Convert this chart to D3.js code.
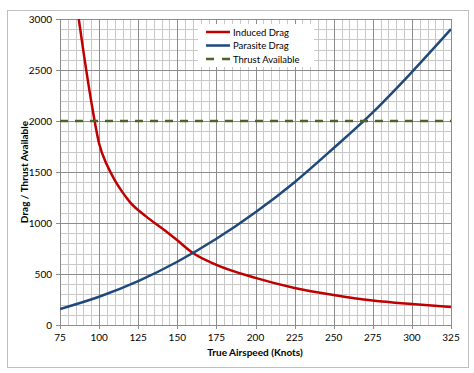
<!DOCTYPE html>
<html>
<head>
<meta charset="utf-8">
<script src="https://cdn.jsdelivr.net/npm/d3@7"></script>
<style>
  body { margin: 0; background: #fff; }
  svg { display: block; font-family: Lato, "Open Sans", sans-serif; }
</style>
</head>
<body>
<svg id="chart" width="474" height="373"></svg>
<script>
// values
const xTicks = [75, 100, 125, 150, 175, 200, 225, 250, 275, 300, 325];
const yTicks = [0, 500, 1000, 1500, 2000, 2500, 3000];

const inducedSpeed = [87, 90, 95, 100, 105, 110, 115, 120, 130, 140, 150, 160, 175, 200, 225, 250, 275, 300, 325];
const inducedDrag  = [3000, 2680, 2190, 1780, 1570, 1420, 1300, 1200, 1065, 950, 830, 705, 590, 462, 363, 294, 240, 205, 176];

const parasiteSpeed = [75, 100, 125, 150, 175, 200, 225, 250, 275, 300, 325];
const parasiteDrag  = [157, 277, 430, 620, 845, 1105, 1400, 1735, 2085, 2480, 2900];

const thrustSpeed = [75, 325];
const thrustAvail = [2000, 2000];

const seriesNames = ['Induced Drag', 'Parasite Drag', 'Thrust Available'];
const seriesColors = ['#C00000', '#1F497D', '#4F6228'];

const svg = d3.select('#chart');

// outer chart frame
svg.append('rect')
  .attr('x', 7.5).attr('y', 10.5)
  .attr('width', 461).attr('height', 357)
  .attr('fill', '#fff')
  .attr('stroke', '#BFBFBF');

const x = d3.scaleLinear().domain([75, 325]).range([60, 451]);
const y = d3.scaleLinear().domain([0, 3000]).range([325, 19]);

// gridlines, minor then major
const grid = svg.append('g');
grid.selectAll('.vminor')
  .data(d3.range(75, 326, 5).filter(v => (v - 75) % 25 !== 0))
  .enter().append('line')
  .attr('x1', d => Math.round(x(d)) + 0.5).attr('x2', d => Math.round(x(d)) + 0.5)
  .attr('y1', y(0)).attr('y2', y(3000))
  .attr('stroke', '#C8C8C8');
grid.selectAll('.hminor')
  .data(d3.range(0, 3001, 100).filter(v => v % 500 !== 0))
  .enter().append('line')
  .attr('y1', d => Math.round(y(d)) + 0.5).attr('y2', d => Math.round(y(d)) + 0.5)
  .attr('x1', x(75)).attr('x2', x(325))
  .attr('stroke', '#C8C8C8');
grid.selectAll('.vmajor')
  .data(xTicks)
  .enter().append('line')
  .attr('x1', d => Math.round(x(d)) + 0.5).attr('x2', d => Math.round(x(d)) + 0.5)
  .attr('y1', y(0) + 4).attr('y2', y(3000))
  .attr('stroke', '#8C8C8C');
grid.selectAll('.hmajor')
  .data(yTicks)
  .enter().append('line')
  .attr('y1', d => Math.round(y(d)) + 0.5).attr('y2', d => Math.round(y(d)) + 0.5)
  .attr('x1', x(75) - 4).attr('x2', x(325))
  .attr('stroke', '#8C8C8C');

// tick labels
svg.append('g').selectAll('text')
  .data(xTicks)
  .enter().append('text')
  .attr('x', d => x(d))
  .attr('y', 341)
  .attr('text-anchor', 'middle')
  .attr('font-size', 10)
  .attr('fill', '#000')
  .text(d => d);

svg.append('g').selectAll('text')
  .data(yTicks)
  .enter().append('text')
  .attr('x', 52)
  .attr('y', d => y(d) + 3.5)
  .attr('text-anchor', 'end')
  .attr('font-size', 10)
  .attr('fill', '#000')
  .text(d => d);

// axis titles
svg.append('text')
  .attr('x', 255).attr('y', 356)
  .attr('text-anchor', 'middle')
  .attr('font-size', 10).attr('font-weight', 'bold')
  .text('True Airspeed (Knots)');

svg.append('text')
  .attr('transform', 'translate(28,172) rotate(-90)')
  .attr('text-anchor', 'middle')
  .attr('font-size', 10).attr('font-weight', 'bold')
  .text('Drag / Thrust Available');

// legend box covers the grid
svg.append('rect')
  .attr('x', 198).attr('y', 24)
  .attr('width', 116).attr('height', 43)
  .attr('fill', '#fff');

// lines
svg.append('clipPath').attr('id', 'plotclip')
  .append('rect').attr('x', 60).attr('y', 19).attr('width', 391).attr('height', 306);

const line = d3.line()
  .x(d => x(d[0]))
  .y(d => y(d[1]))
  .curve(d3.curveMonotoneX);

const plot = svg.append('g').attr('clip-path', 'url(#plotclip)');

plot.append('path')
  .datum(inducedSpeed.map((s, i) => [s, inducedDrag[i]]))
  .attr('d', line)
  .attr('fill', 'none')
  .attr('stroke', seriesColors[0])
  .attr('stroke-width', 2.5);

plot.append('path')
  .datum(parasiteSpeed.map((s, i) => [s, parasiteDrag[i]]))
  .attr('d', line)
  .attr('fill', 'none')
  .attr('stroke', seriesColors[1])
  .attr('stroke-width', 2.5);

plot.append('path')
  .datum(thrustSpeed.map((s, i) => [s, thrustAvail[i]]))
  .attr('d', line)
  .attr('fill', 'none')
  .attr('stroke', seriesColors[2])
  .attr('stroke-width', 2.5)
  .attr('stroke-dasharray', '8,7');

// legend
const legend = svg.append('g');
const rows = legend.selectAll('g')
  .data(seriesNames)
  .enter().append('g')
  .attr('transform', (d, i) => `translate(0,${32 + i * 13.5})`);
rows.append('line')
  .attr('x1', 206).attr('x2', 230)
  .attr('stroke', (d, i) => seriesColors[i])
  .attr('stroke-width', 2.5)
  .attr('stroke-dasharray', (d, i) => i === 2 ? '8,8' : null);
rows.append('text')
  .attr('x', 233).attr('y', 3.5)
  .attr('font-size', 9.5)
  .text(d => d);
</script>
</body>
</html>
